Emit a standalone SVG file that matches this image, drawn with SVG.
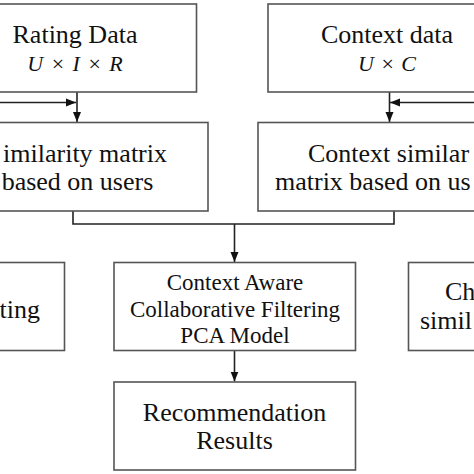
<svg xmlns="http://www.w3.org/2000/svg" width="474" height="474" viewBox="0 0 474 474">
<style>
.box{fill:#fff;stroke:#555;stroke-width:1.6}
.t{font-family:"Liberation Serif","Times New Roman",serif;font-size:26px;fill:#111}
.s{font-family:"Liberation Serif","Times New Roman",serif;font-size:23px;fill:#111}
.m{font-family:"Liberation Serif","Times New Roman",serif;font-size:22px;fill:#111;font-style:italic}
.c{fill:none;stroke:#222;stroke-width:1.6}
</style>
<defs>
<marker id="ah" markerUnits="userSpaceOnUse" markerWidth="10" markerHeight="10" viewBox="0 0 10 10" refX="10" refY="5" orient="auto">
<path d="M0,1 L10,5 L0,9 Z" fill="#111"/>
</marker>
</defs>
<rect width="474" height="474" fill="#fff"/>
<g id="connectors">
<path class="c" d="M-5,102.5 H76" marker-end="url(#ah)"/>
<path class="c" d="M77,92 V122" marker-end="url(#ah)"/>
<path class="c" d="M480,102.5 H390" marker-end="url(#ah)"/>
<path class="c" d="M389.5,92 V122" marker-end="url(#ah)"/>
<path class="c" d="M73,211 V224 H394 V211"/>
<path class="c" d="M234.5,224 V262" marker-end="url(#ah)"/>
<path class="c" d="M234.5,350.5 V381.5" marker-end="url(#ah)"/>
</g>
<g id="rating-data">
<rect class="box" x="-50" y="4" width="246.5" height="88"/>
<text class="t" x="75" y="43" text-anchor="middle">Rating Data</text>
<text class="m" x="75" y="71" text-anchor="middle" word-spacing="3"><tspan>U</tspan> <tspan font-style="normal">×</tspan> <tspan>I</tspan> <tspan font-style="normal">×</tspan> <tspan>R</tspan></text>
</g>
<g id="context-data">
<rect class="box" x="268" y="4" width="260" height="88"/>
<text class="t" x="387" y="43" text-anchor="middle">Context data</text>
<text class="m" x="387" y="71" text-anchor="middle" word-spacing="2"><tspan>U</tspan> <tspan font-style="normal">×</tspan> <tspan>C</tspan></text>
</g>
<g id="similarity-matrix">
<rect class="box" x="-60" y="122.5" width="268" height="88.5"/>
<text class="t" x="167" y="162" text-anchor="end">imilarity matrix</text>
<text class="t" x="77.5" y="190" text-anchor="middle">based on users</text>
</g>
<g id="context-similarity">
<rect class="box" x="258" y="122.5" width="272" height="88.5"/>
<text class="t" x="308" y="162">Context similar</text>
<text class="t" x="275" y="190">matrix based on us</text>
</g>
<g id="rating-left">
<rect class="box" x="-60" y="262.5" width="124.5" height="88"/>
<text class="t" x="40" y="318" text-anchor="end">ting</text>
</g>
<g id="cacf-pca">
<rect class="box" x="114" y="262.5" width="241.5" height="88"/>
<text class="s" x="235" y="290" text-anchor="middle">Context Aware</text>
<text class="s" x="235" y="316.5" text-anchor="middle">Collaborative Filtering</text>
<text class="s" x="235" y="343" text-anchor="middle">PCA Model</text>
</g>
<g id="right-box">
<rect class="box" x="408.5" y="262.5" width="120" height="88"/>
<text class="t" x="445" y="300">Ch</text>
<text class="t" x="420" y="329">simil</text>
</g>
<g id="recommendation">
<rect class="box" x="114" y="382" width="241.5" height="88"/>
<text class="t" x="234.5" y="421" text-anchor="middle">Recommendation</text>
<text class="t" x="234.5" y="449" text-anchor="middle">Results</text>
</g>
</svg>
